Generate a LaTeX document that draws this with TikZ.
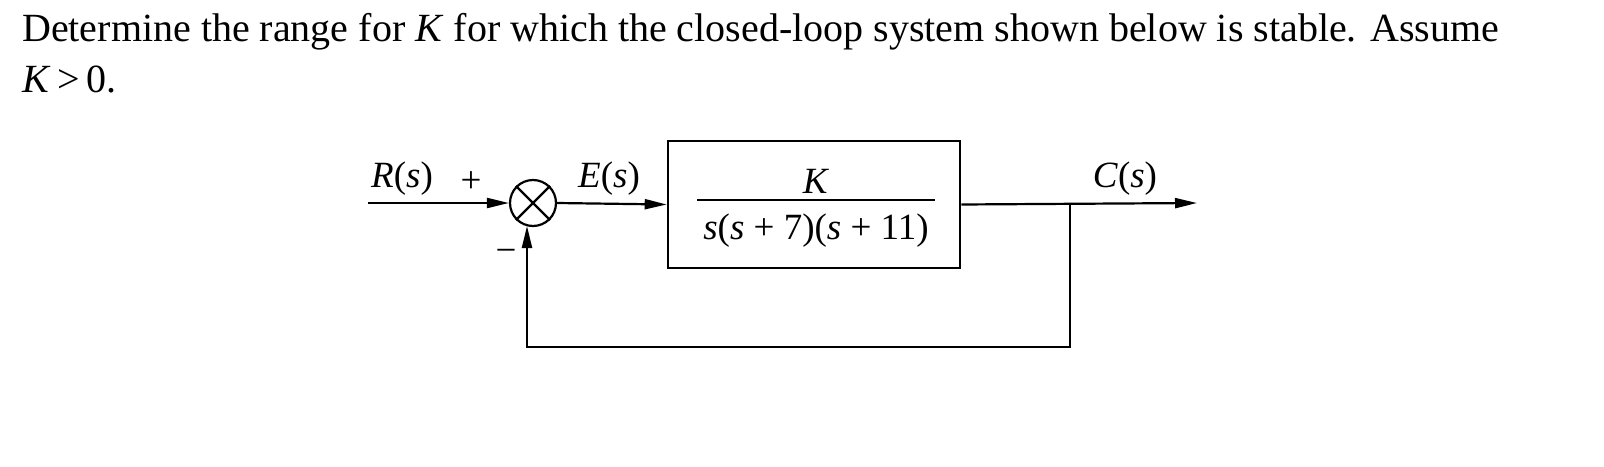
\documentclass[tikz,border=0pt]{standalone}
\usepackage{fontspec}
\setmainfont{Liberation Serif}
\usetikzlibrary{arrows.meta}
\begin{document}
\begin{tikzpicture}[x=1pt,y=-1pt,
  wire/.style={line width=2.2pt},
  arr/.style={wire,-{Triangle[length=22pt,width=10pt]}},
  lbl/.style={font=\fontsize{37}{40}\selectfont,inner sep=0pt}]
\useasboundingbox (0,0) rectangle (1604,466);
\node[anchor=base west,inner sep=0pt,font=\fontsize{40}{44}\selectfont] (t1) at (22,41) {Determine the range for \textit{K} for which the closed-loop system shown below is stable. Assume};
\node[anchor=base west,inner sep=0pt,font=\fontsize{40}{44}\selectfont] (t2) at (22,92) {\textit{K}\,>\,0.};
\coordinate (in) at (368,203);
\node[circle,draw,line width=2.2pt,minimum size=46pt,inner sep=0pt] (sum) at (533,203) {};
\draw[line width=2.2pt] (sum.north west) -- (sum.south east) (sum.north east) -- (sum.south west);
\node[draw,line width=2.6pt,minimum width=292pt,minimum height=127pt,inner sep=0pt] (G) at (814,204.5) {};
\draw[line width=1.5pt] (697,200) coordinate (fl) -- (935,200) coordinate (fr);
\node[lbl] (num) at (816,181) {\textit{K}};
\node[lbl] (den) at (816,231) {\textit{s}(\textit{s} + 7)(\textit{s} + 11)};
\coordinate (out) at (1197,203);
\coordinate (br) at (1070,203);
\coordinate (b1) at (1070,347);
\coordinate (b2) at (527,347);
\draw[arr] (in) -- (sum.west);
\draw[arr] (sum.east) -- (G.west);
\draw[arr] (G.east) -- (out);
\draw[wire] (br) -- (b1) -- (b2) -- (527,290);
\draw[arr] (527,290) -- (527,226) coordinate (sb);
\node[lbl] (R) at (402,179) {\textit{R}(\textit{s})};
\node[lbl] (plus) at (471,182) {+};
\node[lbl] (minus) at (506,256) {−};
\node[lbl] (E) at (609,179) {\textit{E}(\textit{s})};
\node[lbl] (C) at (1125,179) {\textit{C}(\textit{s})};
\end{tikzpicture}
\end{document}
